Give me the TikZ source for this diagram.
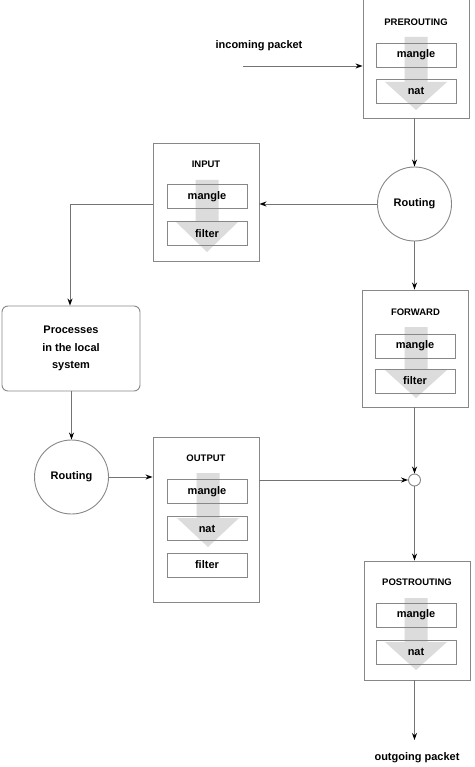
\documentclass[tikz,border=0pt]{standalone}
\usepackage{fontspec}
\setmainfont{Liberation Sans}
\usetikzlibrary{arrows.meta,calc}
\definecolor{linegray}{RGB}{115,115,115}
\definecolor{boxgray}{RGB}{135,135,135}
\definecolor{flowgray}{RGB}{220,220,220}
\newcommand\flowarrow[4]{%
  \fill[flowgray] ({#1-11.5},#2) -- ({#1+11.5},#2) -- ({#1+11.5},#3) -- ({#1+31},#3)
    -- (#1,#4) -- ({#1-31},#3) -- ({#1-11.5},#3) -- cycle;}
\begin{document}
\begin{tikzpicture}[x=1pt,y=-1pt,
  font=\bfseries\fontsize{11}{13}\selectfont,
  chainbox/.style={draw=boxgray,line width=0.9pt,fill=white,minimum width=106pt,inner sep=0pt},
  tablebox/.style={draw=boxgray,line width=0.9pt,minimum width=80pt,minimum height=24pt,inner sep=0pt},
  title/.style={font=\bfseries\fontsize{9.5}{11}\selectfont},
  router/.style={circle,draw=boxgray,line width=0.9pt,fill=white,minimum size=74pt,inner sep=0pt},
  conn/.style={draw=linegray,line width=0.9pt},
  arr/.style={conn,-{Stealth[length=7pt,width=5pt,color=black]}}]
\useasboundingbox (0,0) rectangle (474,767);

% chain boxes
\node[chainbox,minimum height=122pt] (pre) at (416,57) {};
\node[chainbox,minimum height=118pt] (input) at (206,202) {};
\node[chainbox,minimum height=117pt] (fwd) at (415.5,348.5) {};
\node[chainbox,minimum height=165pt] (output) at (206,519.5) {};
\node[chainbox,minimum height=119pt] (post) at (417,620.5) {};

% flow arrows
\flowarrow{416}{37}{82}{110}
\flowarrow{207}{180}{222}{252}
\flowarrow{416}{327}{370}{398}
\flowarrow{208}{473}{518}{547}
\flowarrow{416}{598}{642}{670}

% titles
\node[title] (pret) at (416,22) {PREROUTING};
\node[title] (inputt) at (206,164) {INPUT};
\node[title] (fwdt) at (415.5,312) {FORWARD};
\node[title] (outputt) at (206,458) {OUTPUT};
\node[title] (postt) at (417,582) {POSTROUTING};

% tables
\node[tablebox] (prem) at (416,55) {mangle};
\node[tablebox] (pren) at (416,91) {nat};
\node[tablebox] (inm) at (207,196.5) {mangle};
\node[tablebox] (inf) at (207,233.5) {filter};
\node[tablebox] (fwdm) at (415,346) {mangle};
\node[tablebox] (fwdf) at (415,381) {filter};
\node[tablebox] (outm) at (207,491.5) {mangle};
\node[tablebox] (outn) at (207,528.5) {nat};
\node[tablebox] (outf) at (207,565) {filter};
\node[tablebox] (postm) at (416,615) {mangle};
\node[tablebox] (postn) at (416,652) {nat};

% other nodes
\node[router] (r1) at (414.5,204) {Routing};
\node[router] (r2) at (71.5,477) {Routing};
\node[draw=boxgray,line width=0.9pt,rounded corners=6pt,minimum width=138pt,minimum height=85pt,
  align=center,font=\bfseries\fontsize{11}{17.5}\selectfont] (proc) at (71,348.5)
  {Processes\\in the local\\system};
\node[circle,draw=boxgray,line width=0.9pt,minimum size=12pt,inner sep=0pt] (jn) at (414.5,480) {};
\node (inc) at (259,46) {incoming packet};
\node (outp) at (417,758) {outgoing packet};
\coordinate (incstart) at (243,66);
\coordinate (bend) at (70,204);

% connectors
\draw[arr] (incstart) -- (incstart -| pre.west);
\draw[arr] (pre.south -| r1) -- (r1.north);
\draw[arr] (r1.west) -- (r1.west -| input.east);
\draw[arr] (input.west |- bend) -- (bend) -- (proc.north -| bend);
\draw[arr] (proc.south -| r2) -- (r2.north);
\draw[arr] (r2.east) -- (r2.east -| output.west);
\draw[arr] (r1.south) -- (r1.south |- fwd.north);
\draw[arr] (fwd.south -| jn) -- (jn.north);
\draw[arr] (jn.west -| output.east) -- (jn.west);
\draw[arr] (jn.south) -- (jn.south |- post.north);
\draw[arr] (post.south -| jn) -- (jn |- 0,740);
\end{tikzpicture}
\end{document}
